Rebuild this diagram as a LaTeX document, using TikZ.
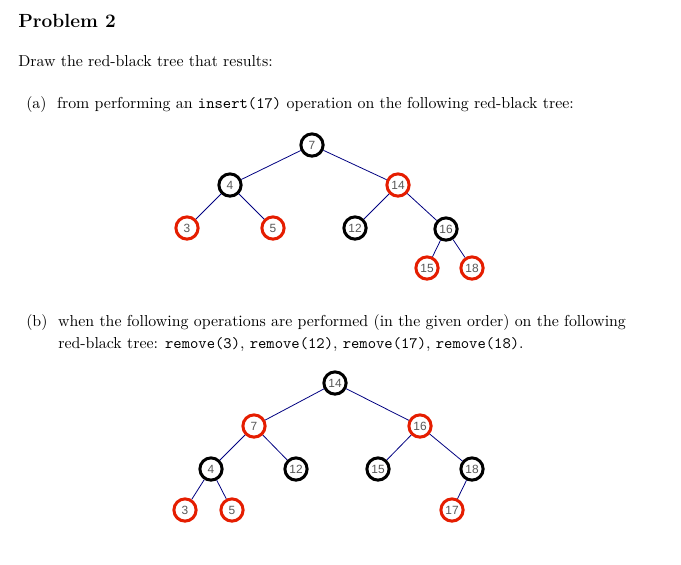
\documentclass[tikz,border=0pt]{standalone}
\usepackage{fontspec}
\newfontfamily\nodefont{Liberation Sans}
\begin{document}
\begin{tikzpicture}[x=0.63pt,y=-0.63pt,
  rb/.style={circle,draw,line width=1.9pt,minimum size=14pt,inner sep=0pt,fill=white,font=\nodefont\fontsize{7.5}{8}\selectfont,text=black!65},
  bk/.style={rb,draw=black},
  rd/.style={rb,draw=red!75!orange!90!black},
  ed/.style={draw=blue!50!black,line width=0.5pt},
  txt/.style={anchor=base west,inner sep=0pt}]
\useasboundingbox (0,0) rectangle (681,564);
\node[txt,font=\large\bfseries] (t) at (18,27) {Problem 2};
\node[txt] (l1) at (18,66) {Draw the red-black tree that results:};
\node[txt] (l2) at (26,108) {(a)\ \ from performing an \texttt{insert(17)} operation on the following red-black tree:};
\node[txt] (l3) at (26,326) {(b)\ \ when the following operations are performed (in the given order) on the following};
\node[txt] (l4) at (58,348) {red-black tree: \texttt{remove(3)}, \texttt{remove(12)}, \texttt{remove(17)}, \texttt{remove(18)}.};
% tree a
\node[bk] (a7) at (312,145) {7};
\node[bk] (a4) at (230,185) {4};
\node[rd] (a14) at (398,185) {14};
\node[rd] (a3) at (187,228) {3};
\node[rd] (a5) at (273,228) {5};
\node[bk] (a12) at (355,228) {12};
\node[bk] (a16) at (446,229) {16};
\node[rd] (a15) at (427,268) {15};
\node[rd] (a18) at (472,268) {18};
\begin{scope}[on background layer/.style={}]
\end{scope}
\draw[ed] (a7)--(a4) (a7)--(a14) (a4)--(a3) (a4)--(a5) (a14)--(a12) (a14)--(a16) (a16)--(a15) (a16)--(a18);
% tree b
\node[bk] (b14) at (335,383) {14};
\node[rd] (b7) at (254,426) {7};
\node[rd] (b16) at (420,426) {16};
\node[bk] (b4) at (211,469) {4};
\node[bk] (b12) at (296,469) {12};
\node[bk] (b15) at (378,469) {15};
\node[bk] (b18) at (472,469) {18};
\node[rd] (b3) at (185,510) {3};
\node[rd] (b5) at (232,510) {5};
\node[rd] (b17) at (452,510) {17};
\draw[ed] (b14)--(b7) (b14)--(b16) (b7)--(b4) (b7)--(b12) (b16)--(b15) (b16)--(b18) (b4)--(b3) (b4)--(b5) (b18)--(b17);
\end{tikzpicture}
\end{document}
